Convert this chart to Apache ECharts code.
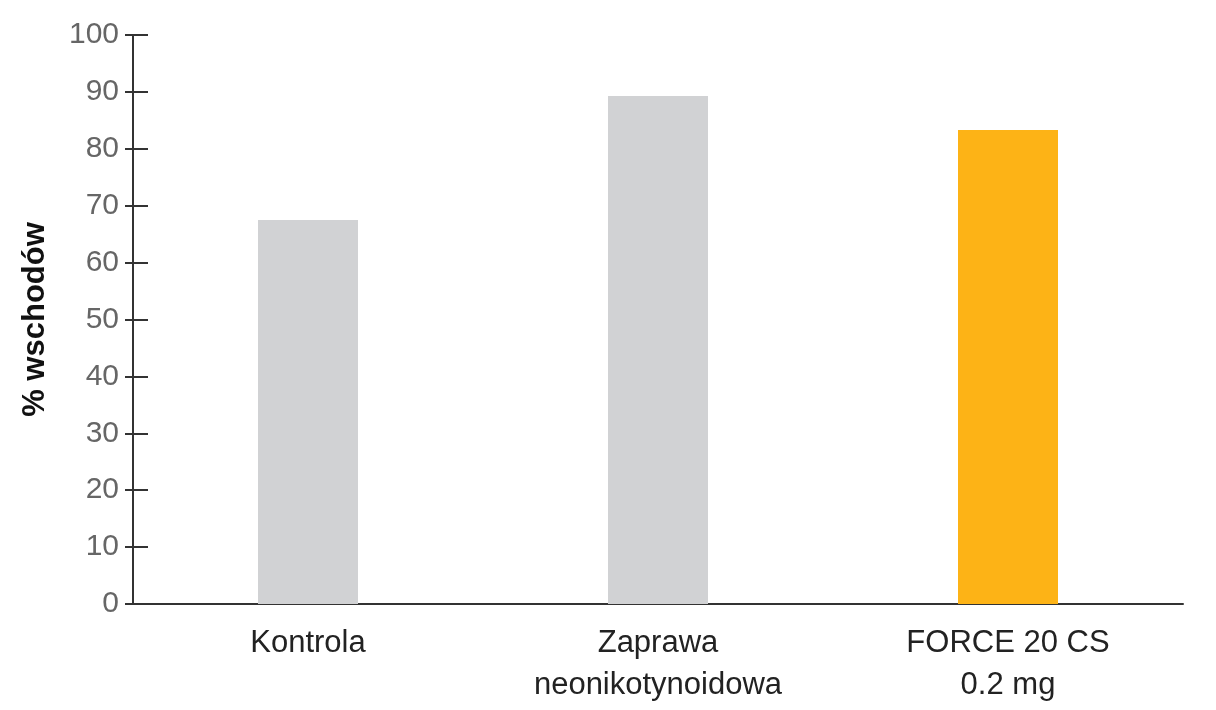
<!DOCTYPE html>
<html lang="pl">
<head>
    <meta charset="UTF-8">
    <title>wschody</title>
    <script src="https://cdn.jsdelivr.net/npm/echarts@6/dist/echarts.min.js"></script>
    <style>
        body{margin:0;background:#fff;}
        #main{width:1216px;height:710px;}
    </style>
</head>
<body>
<div id="main"></div>
<script type="text/javascript">
    var categories = ['Kontrola', 'Zaprawa\nneonikotynoidowa', 'FORCE 20 CS\n0.2 mg'];
    var values = [67.5, 89.3, 83.3];
    var barColors = ['#d1d2d4', '#d1d2d4', '#fdb316'];

    var myChart = echarts.init(document.getElementById('main'));
    var font = 'Liberation Sans, Arial, sans-serif';
    var axisLine = {show: true, lineStyle: {color: '#333', width: 2}};

    var option = {
        animation: false,
        grid: {left: 133, right: 33, top: 35, bottom: 106},
        xAxis: {
            type: 'category',
            data: categories,
            axisLine: axisLine,
            axisTick: {show: false},
            axisLabel: {color: '#222', fontSize: 31, fontFamily: font, lineHeight: 42, margin: 18}
        },
        yAxis: [{
            type: 'value', min: 0, max: 100, interval: 10,
            name: '% wschodów', nameLocation: 'middle', nameGap: 82, nameRotate: 90,
            nameTextStyle: {color: '#111', fontSize: 31, fontWeight: 'bold', fontFamily: font},
            axisLine: axisLine,
            axisTick: {show: true, length: 8, lineStyle: {color: '#333', width: 2}},
            axisLabel: {color: '#666', fontSize: 30, fontFamily: font, margin: 14},
            splitLine: {show: false}
        }, {
            type: 'value', min: 0, max: 100, interval: 10, position: 'left',
            axisLine: {show: false},
            axisTick: {show: true, inside: true, length: 15, lineStyle: {color: '#333', width: 2}},
            axisLabel: {show: false},
            splitLine: {show: false}
        }],
        series: [{
            type: 'bar',
            barWidth: 100,
            data: values.map(function (v, i) {
                return {value: v, itemStyle: {color: barColors[i]}};
            })
        }]
    };
    myChart.setOption(option);
</script>
</body>
</html>
